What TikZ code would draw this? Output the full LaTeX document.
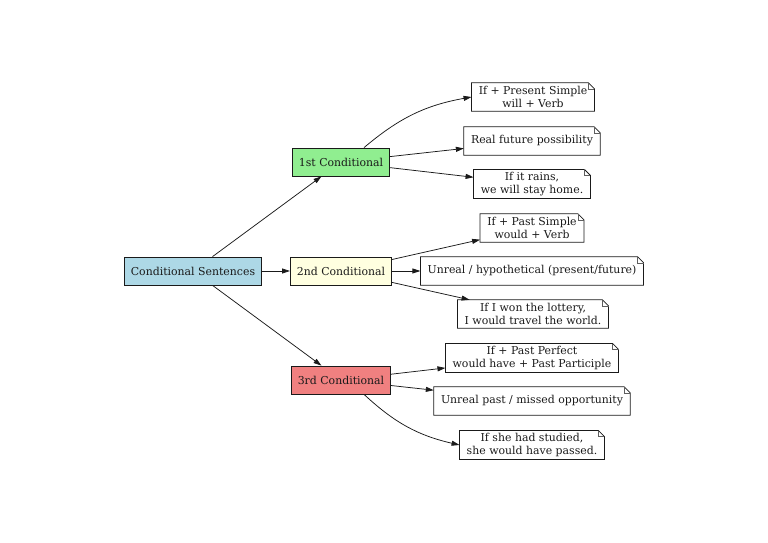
\documentclass[tikz,border=0pt]{standalone}
\usepackage{fontspec}
\setmainfont{DejaVu Serif}
\usetikzlibrary{arrows.meta}
\definecolor{csblue}{HTML}{ADD8E6}
\definecolor{firstgreen}{HTML}{90EE90}
\definecolor{secondyellow}{HTML}{FFFFE0}
\definecolor{thirdred}{HTML}{F08080}
\definecolor{inkgray}{HTML}{1A1A1A}

\begin{document}
\begin{tikzpicture}[
    x=1bp, y=1bp,
    every node/.style={font=\fontsize{10.9bp}{13bp}\selectfont, text=inkgray},
    typebox/.style={draw=inkgray, line width=0.75bp, minimum height=28bp,
                    inner xsep=6.5bp},
    notebox/.style={align=center, minimum height=28bp, inner xsep=7bp,
                    inner ysep=2.5bp,
      append after command={\pgfextra{\let\notenode\tikzlastnode
        \draw[inkgray, line width=0.75bp]
          (\notenode.south west) -- (\notenode.south east)
          -- ([yshift=-6bp]\notenode.north east)
          -- ([xshift=-6bp]\notenode.north east)
          -- (\notenode.north west) -- cycle;
        \draw[inkgray!70, line width=0.5bp]
          ([xshift=-6bp]\notenode.north east)
          |- ([yshift=-6bp]\notenode.north east);
      }}},
    link/.style={-{Triangle[length=8bp, width=5bp]}, line width=0.75bp,
                 draw=inkgray},
  ]
    \useasboundingbox (0,0) rectangle (768,543);

    % Root
    \node[typebox, fill=csblue] (cs) at (193,272) {Conditional Sentences};

    % Conditional types
    \node[typebox, fill=firstgreen] (first) at (341,381) {1st Conditional};
    \node[typebox, fill=secondyellow] (second) at (341,272) {2nd Conditional};
    \node[typebox, fill=thirdred] (third) at (341,163) {3rd Conditional};

    % 1st conditional notes
    \node[notebox] (firstform) at (533,446) {If + Present Simple\\will + Verb};
    \node[notebox] (firstuse) at (532,402) {Real future possibility};
    \node[notebox] (firstex) at (532,359) {If it rains,\\we will stay home.};

    % 2nd conditional notes
    \node[notebox] (secondform) at (532,315) {If + Past Simple\\would + Verb};
    \node[notebox] (seconduse) at (532,272) {Unreal / hypothetical (present/future)};
    \node[notebox] (secondex) at (533,229) {If I won the lottery,\\I would travel the world.};

    % 3rd conditional notes
    \node[notebox] (thirdform) at (532,185) {If + Past Perfect\\would have + Past Participle};
    \node[notebox] (thirduse) at (532,142) {Unreal past / missed opportunity};
    \node[notebox] (thirdex) at (532,98) {If she had studied,\\she would have passed.};

    % Root to types
    \draw[link] (cs) -- (first);
    \draw[link] (cs) -- (second);
    \draw[link] (cs) -- (third);

    % Types to notes
    \draw[link] ([xshift=23bp]first.north) to[bend left=15] (firstform.west);
    \draw[link] (first) -- (firstuse);
    \draw[link] (first) -- (firstex);

    \draw[link] (second) -- (secondform);
    \draw[link] (second) -- (seconduse);
    \draw[link] (second) -- (secondex);

    \draw[link] (third) -- (thirdform);
    \draw[link] (third) -- (thirduse);
    \draw[link] ([xshift=23bp]third.south) to[bend right=15] (thirdex.west);
  \end{tikzpicture}
\end{document}
